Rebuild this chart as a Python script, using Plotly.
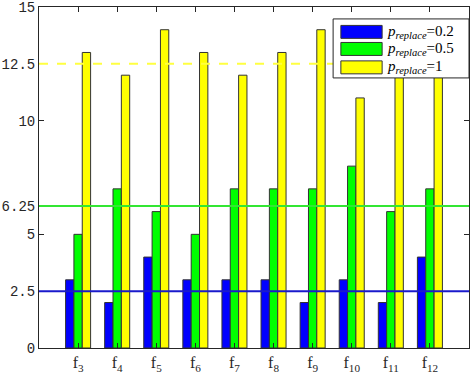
import plotly.graph_objects as go

categories = [3, 4, 5, 6, 7, 8, 9, 10, 11, 12]
cat_labels = ["f<sub>%d</sub>" % c for c in categories]
p02 = [3, 2, 4, 3, 3, 3, 2, 3, 2, 4]
p05 = [5, 7, 6, 5, 7, 7, 7, 8, 6, 7]
p1 = [13, 12, 14, 13, 12, 13, 14, 11, 13, 13]
series_names = ["0.2", "0.5", "1"]
series_colors = ["#0000ff", "#00ff00", "#ffff00"]
ref_levels = [2.5, 6.25, 12.5]
ref_colors = ["#1a1acc", "#33e633", "#ffff40"]
ref_dash = ["solid", "solid", "dash"]
ytick_vals = [0, 2.5, 5, 6.25, 10, 12.5, 15]
ytick_text = ["0", "2.5", "5", "6.25", "10", "12.5", "15"]

fig = go.Figure()
for vals, col, nm in zip([p02, p05, p1], series_colors, series_names):
    fig.add_trace(go.Bar(x=categories, y=vals, name=nm, marker_color=col,
                         marker_line_color="#333333", marker_line_width=1,
                         showlegend=False))

for lv, col, ds in zip(ref_levels, ref_colors, ref_dash):
    fig.add_shape(type="line", xref="x domain", yref="y", x0=0, x1=1, y0=lv, y1=lv,
                  line=dict(color=col, width=2, dash=ds), layer="above")

# legend box
fig.add_shape(type="rect", xref="paper", yref="paper", x0=0.684, x1=1.0, y0=0.792, y1=0.965,
              line=dict(color="#262626", width=1), fillcolor="white", layer="above")
rows = [0.927, 0.877, 0.823]
for yc, col, nm in zip(rows, series_colors, series_names):
    fig.add_shape(type="rect", xref="paper", yref="paper", x0=0.702, x1=0.798,
                  y0=yc - 0.019, y1=yc + 0.019, line=dict(color="#333333", width=1),
                  fillcolor=col, layer="above")
    fig.add_annotation(xref="paper", yref="paper", x=0.805, y=yc, xanchor="left", yanchor="middle",
                       text="<i>p</i><sub><i>replace</i></sub>=" + nm, showarrow=False,
                       font=dict(family="Liberation Serif", size=15, color="#000000"))

fig.update_layout(
    width=474, height=378,
    margin=dict(l=39, r=5, t=7, b=30, autoexpand=False),
    plot_bgcolor="white", paper_bgcolor="white",
    barmode="group", bargap=0.36, bargroupgap=0,
)
fig.update_xaxes(range=[2, 13], tickvals=categories, ticktext=cat_labels, automargin=False,
                 ticklabeloverflow="allow",
                 showline=True, linecolor="#262626", linewidth=1, mirror="ticks",
                 ticks="inside", ticklen=5, tickcolor="#262626", showgrid=False, zeroline=False,
                 tickfont=dict(family="Liberation Serif", size=16, color="#262626"))
fig.update_yaxes(range=[0, 15], tickvals=ytick_vals, ticktext=ytick_text, automargin=False,
                 ticklabeloverflow="allow",
                 showline=True, linecolor="#262626", linewidth=1, mirror="ticks",
                 ticks="inside", ticklen=5, tickcolor="#262626", showgrid=False, zeroline=False,
                 tickfont=dict(family="Liberation Mono, Courier New, monospace", size=14, color="#262626"))

fig.write_html("out.html", config={"displayModeBar": False},
               post_script="document.body.style.margin='0';")
